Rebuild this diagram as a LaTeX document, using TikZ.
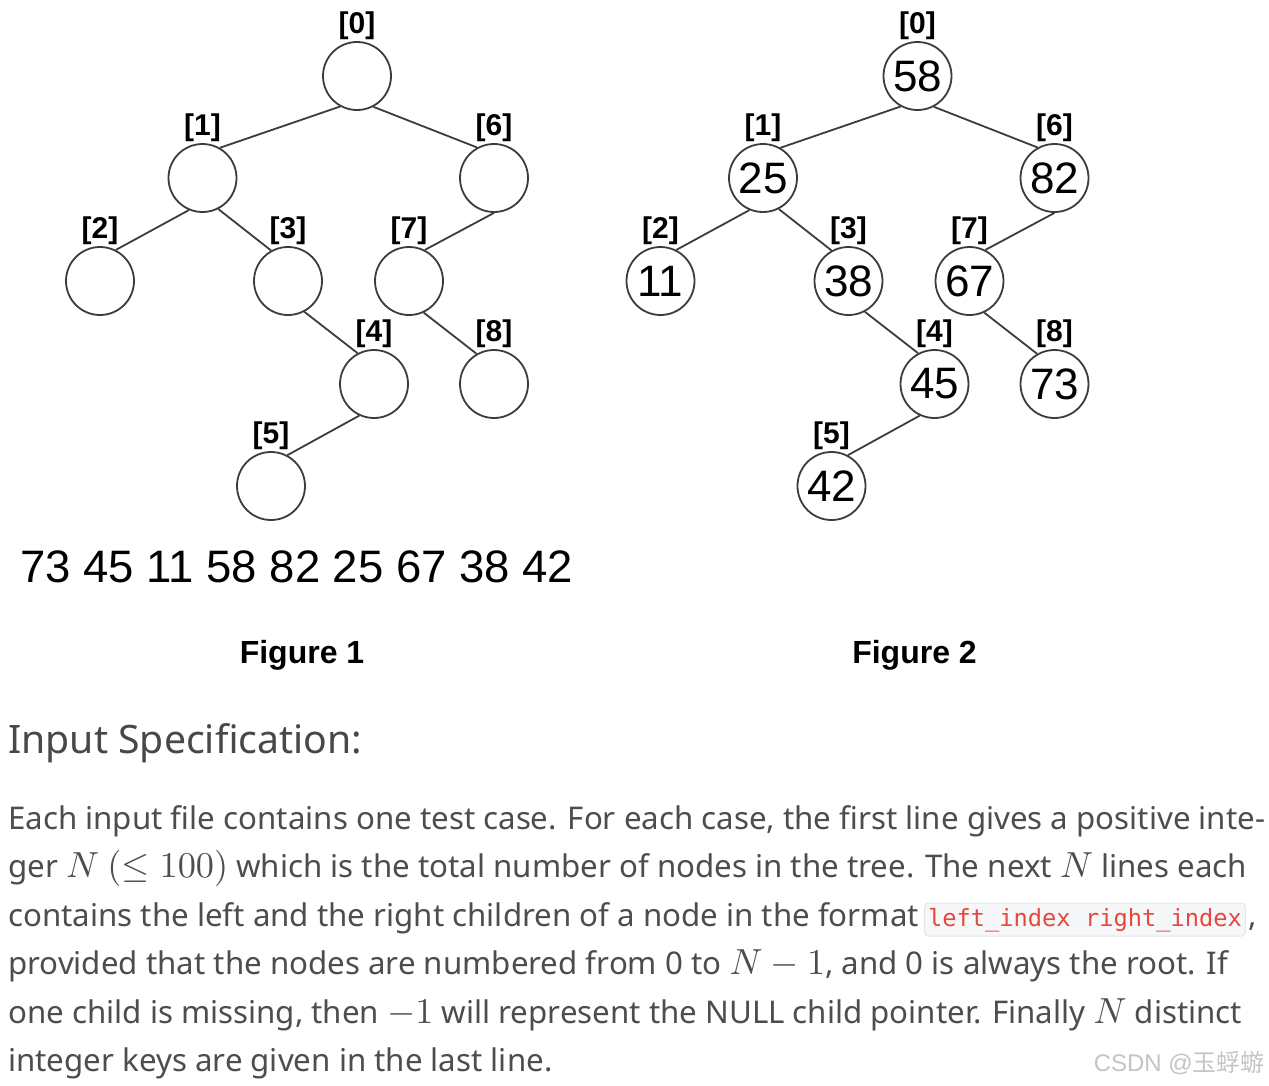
\documentclass[tikz,border=0pt]{standalone}
\usepackage{fontspec}
\setmainfont{Noto Sans}
\newfontfamily\arialf{Liberation Sans}
\newfontfamily\monof{DejaVu Sans Mono}
\newfontfamily\cjkf{Noto Sans CJK SC}
\definecolor{linec}{RGB}{60,60,60}
\definecolor{txtc}{RGB}{77,77,77}
\definecolor{headc}{RGB}{72,72,72}
\definecolor{codec}{RGB}{229,72,60}
\definecolor{codebg}{RGB}{246,247,249}
\definecolor{codebd}{RGB}{228,229,233}
\definecolor{wmc}{RGB}{196,196,196}
\newlength\wA
\newlength\wB
\newcommand\mth[1]{\scalebox{\msc}{\fontsize{10}{12}\selectfont$#1$}}
\newcommand\mytree[9]{%
  \node[vtx] (n0) at (357,-76) {#1};
  \node[vtx] (n1) at (202.5,-178) {#2};
  \node[vtx] (n2) at (100,-281) {#3};
  \node[vtx] (n3) at (288,-281) {#4};
  \node[vtx] (n4) at (374,-384) {#5};
  \node[vtx] (n5) at (271,-486) {#6};
  \node[vtx] (n6) at (494,-178) {#7};
  \node[vtx] (n7) at (409,-281) {#8};
  \node[vtx] (n8) at (494,-384) {#9};
  \foreach \i in {0,...,8} {\node[lbl] (l\i) at ([yshift=43pt]n\i.center) {[\i]};}
  \draw[edge] (n0.241) -- (n1.60);
  \draw[edge] (n0.298) -- (n6.119);
  \draw[edge] (n1.247) -- (n2.63);
  \draw[edge] (n1.297) -- (n3.119);
  \draw[edge] (n6.270) -- (n7.63);
  \draw[edge] (n3.298) -- (n4.118);
  \draw[edge] (n7.295) -- (n8.120);
  \draw[edge] (n4.245) -- (n5.62);
}
\begin{document}
\settowidth{\wA}{\fontsize{28}{28}\selectfont Each input file contains one test case. For each case, the first line gives a positive inte-}%
\pgfmathsetmacro\bfs{1257/\wA*28}%
\pgfmathsetmacro\msc{\bfs*0.116}%
\settowidth{\wB}{\fontsize{40}{40}\selectfont Input Specification:}%
\pgfmathsetmacro\hfs{354/\wB*40}%
\begin{tikzpicture}[x=1pt,y=1pt,
  vtx/.style={circle, draw=linec, line width=1.8pt, minimum size=68pt, inner sep=0pt,
    font=\arialf\fontsize{44}{44}\selectfont},
  lbl/.style={anchor=base, inner sep=0pt, font=\arialf\bfseries\fontsize{30}{30}\selectfont},
  edge/.style={draw=linec, line width=1.8pt},
  body/.style={anchor=base west, inner sep=0pt, text=txtc, font=\fontsize{\bfs}{\bfs}\selectfont},
  code/.style={anchor=base west, rounded corners=4pt, fill=codebg, draw=codebd, line width=1pt,
    inner xsep=3.5pt, inner ysep=4pt, text height=19pt, text depth=6pt, text=codec,
    font=\monof\fontsize{23.7}{23.7}\selectfont}]
\fill[white] (0,0) rectangle (1269,-1085);
\useasboundingbox (0,0) rectangle (1269,-1085);
\begin{scope}[name prefix=a-]
\mytree{}{}{}{}{}{}{}{}{}
\end{scope}
\begin{scope}[xshift=560.5pt, name prefix=b-]
\mytree{58}{25}{11}{38}{45}{42}{82}{67}{73}
\end{scope}
\node[anchor=base west, inner sep=0pt, font=\arialf\fontsize{45.5}{45.5}\selectfont] (keys) at (20,-582) {73 45 11 58 82 25 67 38 42};
\node[anchor=base, inner sep=0pt, font=\arialf\bfseries\fontsize{32}{32}\selectfont] (fig1) at (302,-663) {Figure 1};
\node[anchor=base, inner sep=0pt, font=\arialf\bfseries\fontsize{32}{32}\selectfont] (fig2) at (914.5,-663) {Figure 2};
\node[anchor=base west, inner sep=0pt, text=headc, font=\fontsize{\hfs}{\hfs}\selectfont] (head) at (8,-753) {Input Specification:};
\node[body] (t1) at (8,-829) {Each input file contains one test case. For each case, the first line gives a positive inte-};
\node[body] (t2) at (8,-877.5) {ger \mth{N} \mth{(\le 100)} which is the total number of nodes in the tree. The next \mth{N} lines each};
\node[body] (t3) at (8,-926) {contains the left and the right children of a node in the format};
\node[code, xshift=5pt] (cd) at (t3.base east) {left\_index right\_index};
\node[body, xshift=2pt] (comma) at (cd.base east) {,};
\node[body] (t4) at (8,-974.5) {provided that the nodes are numbered from 0 to \mth{N-1}, and 0 is always the root. If};
\node[body] (t5) at (8,-1023) {one child is missing, then \mth{-1} will represent the NULL child pointer. Finally \mth{N} distinct};
\node[body] (t6) at (8,-1071.5) {integer keys are given in the last line.};
\node[anchor=base east, inner sep=0pt, text=wmc, font=\cjkf\fontsize{24}{24}\selectfont] (wm) at (1265,-1071) {{\arialf CSDN @}玉蜉蝣};
\end{tikzpicture}
\end{document}
